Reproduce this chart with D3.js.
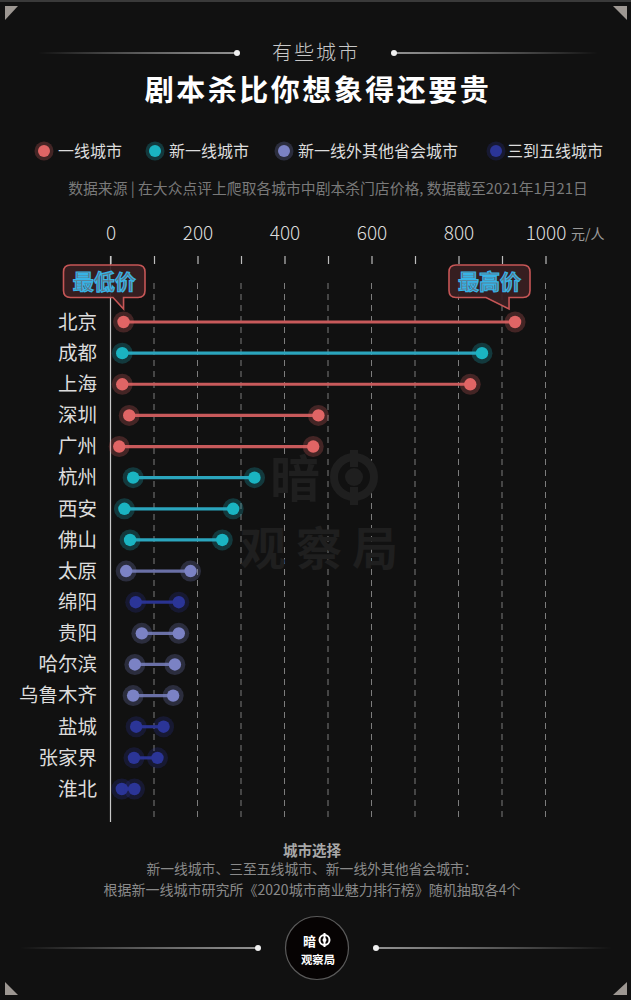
<!DOCTYPE html>
<html>
<head>
<meta charset="utf-8">
<script src="https://cdn.jsdelivr.net/npm/d3@7/dist/d3.min.js"></script>
<style>
  html, body { margin: 0; padding: 0; background: #111111; }
  svg { display: block; }
  text { font-family: "Noto Sans CJK SC", "Noto Sans", sans-serif; }
</style>
</head>
<body>
<svg id="chart" width="631" height="1000"></svg>
<script>
// ---------------- data ----------------
const cities = ["北京","成都","上海","深圳","广州","杭州","西安","佛山","太原","绵阳","贵阳","哈尔滨","乌鲁木齐","盐城","张家界","淮北"];
const tiers  = ["一线城市","新一线城市","一线城市","一线城市","一线城市","新一线城市","新一线城市","新一线城市",
                "新一线外其他省会城市","三到五线城市","新一线外其他省会城市","新一线外其他省会城市","新一线外其他省会城市",
                "三到五线城市","三到五线城市","三到五线城市"];
const minPrice = [30, 27, 27, 43, 20, 52, 32, 45, 36, 58, 72, 56, 52, 59, 54, 26];
const maxPrice = [930, 854, 827, 478, 466, 331, 282, 257, 184, 157, 157, 148, 144, 122, 108, 55];
const legendNames = ["一线城市","新一线城市","新一线外其他省会城市","三到五线城市"];
const tierColors  = ["#e06565","#1ab4c2","#7b82c4","#2b3597"];
const lineColors  = ["#c85a5b","#2ba5bd","#6a70a6","#2a3390"];
const tickLabels  = [0, 200, 400, 600, 800, 1000];
const minorTicks  = [0,100,200,300,400,500,600,700,800,900,1000];

const svg = d3.select("#chart");
const W = 631;

// ---------------- frame ----------------
svg.append("rect").attr("x",0).attr("y",0).attr("width",W).attr("height",2).attr("fill","#3a3a3a");
const cornerColor = "#9d9792";
[[[5,6],[18,6],[5,20]], [[613,6],[627,6],[627,20]], [[5,982],[5,995],[18,995]], [[627,982],[627,995],[613,995]]]
  .forEach(p => svg.append("path").attr("d", d3.line()(p) + "Z").attr("fill", cornerColor));

// gradients for header/footer lines
const defs = svg.append("defs");
function grad(id, x1, x2) {
  const g = defs.append("linearGradient").attr("id", id).attr("x1", x1).attr("x2", x2).attr("y1","0").attr("y2","0");
  g.append("stop").attr("offset","0%").attr("stop-color","#ffffff").attr("stop-opacity",0);
  g.append("stop").attr("offset","100%").attr("stop-color","#cfcfcf").attr("stop-opacity",0.9);
}
grad("gl","0","1"); grad("gr","1","0");

function decoLine(y, xl0, xl1, xr0, xr1) {
  svg.append("rect").attr("x",xl0).attr("y",y-0.75).attr("width",xl1-xl0).attr("height",1.5).attr("fill","url(#gl)");
  svg.append("rect").attr("x",xr0).attr("y",y-0.75).attr("width",xr1-xr0).attr("height",1.5).attr("fill","url(#gr)");
  svg.append("circle").attr("cx",xl1).attr("cy",y).attr("r",3).attr("fill","#f0f0f0");
  svg.append("circle").attr("cx",xr0).attr("cy",y).attr("r",3).attr("fill","#f0f0f0");
}

// ---------------- header ----------------
decoLine(53, 38, 237, 394, 598);
svg.append("text").attr("x",316).attr("y",60).attr("text-anchor","middle")
  .attr("font-size",20).attr("font-weight",300).attr("letter-spacing",2).attr("fill","#c8c8c8").text("有些城市");
svg.append("text").attr("x",318).attr("y",101).attr("text-anchor","middle")
  .attr("font-size",29).attr("font-weight",700).attr("letter-spacing",2.5).attr("fill","#ffffff").text("剧本杀比你想象得还要贵");

// ---------------- legend ----------------
const legendX = [44, 155, 284, 496];
const lg = svg.append("g").selectAll("g").data(legendNames).join("g")
  .attr("transform", (d,i) => `translate(${legendX[i]},151)`);
lg.append("circle").attr("r",9.5).attr("fill",(d,i)=>tierColors[i]).attr("opacity",0.25);
lg.append("circle").attr("r",6).attr("fill",(d,i)=>tierColors[i]);
lg.append("text").attr("x",(d,i)=> i===3 ? 11 : 14).attr("y",0).attr("dy","0.35em").attr("font-size",16)
  .attr("fill","#dddddd").text(d=>d);

svg.append("text").attr("x",328).attr("y",194).attr("text-anchor","middle")
  .attr("font-size",14.8).attr("fill","#7a7a7a")
  .text("数据来源 | 在大众点评上爬取各城市中剧本杀门店价格, 数据截至2021年1月21日");

// ---------------- scales ----------------
const x = d3.scaleLinear().domain([0,1000]).range([110.5,545.5]);
const y = d3.scalePoint().domain(cities).range([322,789]);
const gridTop = 283, gridBottom = 822;

// tick labels (top axis)
const axisLabels = svg.append("g").attr("transform","translate(0,240)")
  .call(d3.axisTop(x).tickValues(tickLabels).tickSize(0).tickPadding(0).tickFormat(d3.format("d")));
axisLabels.select(".domain").remove();
axisLabels.selectAll("text").attr("font-size",19).attr("font-weight",300).attr("fill","#dddddd")
  .attr("font-family","'Noto Sans CJK SC', 'Noto Sans', sans-serif").attr("dy",0);
svg.append("text").attr("x",571).attr("y",239).attr("font-size",14).attr("fill","#9a9a9a").text("元/人");

// short tick marks
const minor = svg.append("g").attr("transform","translate(0,256)")
  .call(d3.axisBottom(x).tickValues(minorTicks).tickSize(8).tickFormat(""));
minor.select(".domain").remove();
minor.selectAll("line").attr("stroke","#bdbdbd").attr("stroke-width",1.2);

// dashed grid
svg.append("g").selectAll("line").data(minorTicks.filter(d=>d>0)).join("line")
  .attr("x1",d=>x(d)).attr("x2",d=>x(d)).attr("y1",gridTop).attr("y2",gridBottom)
  .attr("stroke","#7d7d7d").attr("stroke-width",1).attr("stroke-dasharray","6,5");

// ---------------- watermark ----------------
const wm = svg.append("g").attr("fill","#1f1f1f");
const wm1 = wm.append("text").attr("x",270).attr("y",497).attr("font-size",50).attr("font-weight",700).text("暗");
const wm2 = wm.append("text").attr("x",240).attr("y",564).attr("font-size",46).attr("font-weight",700)
  .attr("letter-spacing",10).text("观察局");
// keep the two watermark lines from touching
{
  const b1 = wm1.node().getBBox(), b2 = wm2.node().getBBox();
  const ov = (b1.y + b1.height) - b2.y;
  if (ov > -0.5) wm2.attr("y", 564 + ov + 0.5);
}
wm.append("circle").attr("cx",354).attr("cy",477).attr("r",20).attr("fill","none").attr("stroke","#1f1f1f").attr("stroke-width",8);
wm.append("circle").attr("cx",354).attr("cy",477).attr("r",9);
wm.append("rect").attr("x",350).attr("y",450).attr("width",8).attr("height",17);
wm.append("rect").attr("x",350).attr("y",487).attr("width",8).attr("height",18);

// axis line at 0
svg.append("line").attr("x1",x(0)).attr("x2",x(0)).attr("y1",256).attr("y2",gridBottom)
  .attr("stroke","#c8c8c8").attr("stroke-width",1.2);

// ---------------- callouts ----------------
function callout(x0, x1, px0, tipX, label) {
  const top = 265, bot = 297.5, r = 7, tipY = 309;
  const p = d3.path();
  p.moveTo(x0 + r, top);
  p.lineTo(x1 - r, top); p.quadraticCurveTo(x1, top, x1, top + r);
  p.lineTo(x1, bot - r); p.quadraticCurveTo(x1, bot, x1 - r, bot);
  p.lineTo(tipX, bot); p.lineTo(tipX, tipY); p.lineTo(px0, bot);
  p.lineTo(x0 + r, bot); p.quadraticCurveTo(x0, bot, x0, bot - r);
  p.lineTo(x0, top + r); p.quadraticCurveTo(x0, top, x0 + r, top);
  p.closePath();
  svg.append("path").attr("d", p.toString()).attr("fill","#3a2022").attr("fill-opacity",0.92)
    .attr("stroke","#c65656").attr("stroke-width",1.6);
  svg.append("text").attr("x",(x0+x1)/2).attr("y",289).attr("text-anchor","middle")
    .attr("font-size",21).attr("font-weight",700).attr("fill","#8fe3ff").attr("fill-opacity",0.45)
    .attr("stroke","#37b3e6").attr("stroke-width",1.2).text(label);
}
callout(63.5, 145, 113, x(minPrice[0]), "最低价");
callout(449, 530, 486, x(maxPrice[0]) - 6, "最高价");

// ---------------- city labels ----------------
svg.append("g").selectAll("text").data(cities).join("text")
  .attr("x",97).attr("y",d=>y(d)).attr("dy","0.35em").attr("text-anchor","end")
  .attr("font-size",19.5).attr("fill","#dcdcdc").text(d=>d);

// ---------------- dumbbells ----------------
const rows = cities.map((c,i)=>({city:c, tier:legendNames.indexOf(tiers[i]), min:minPrice[i], max:maxPrice[i]}));
const rg = svg.append("g").selectAll("g").data(rows).join("g");
rg.append("line").attr("x1",d=>x(d.min)).attr("x2",d=>x(d.max)).attr("y1",d=>y(d.city)).attr("y2",d=>y(d.city))
  .attr("stroke",d=>lineColors[d.tier]).attr("stroke-width",3.2);
["min","max"].forEach(k=>{
  rg.append("circle").attr("cx",d=>x(d[k])).attr("cy",d=>y(d.city)).attr("r",10.5)
    .attr("fill",d=>tierColors[d.tier]).attr("opacity",0.25);
  rg.append("circle").attr("cx",d=>x(d[k])).attr("cy",d=>y(d.city)).attr("r",6.2)
    .attr("fill",d=>tierColors[d.tier]);
});

// ---------------- notes ----------------
svg.append("text").attr("x",312).attr("y",855.5).attr("text-anchor","middle").attr("font-size",14.5)
  .attr("font-weight",700).attr("fill","#a8a8a8").text("城市选择");
svg.append("text").attr("x",312).attr("y",874).attr("text-anchor","middle").attr("font-size",13.8)
  .attr("fill","#8a8a8a").text("新一线城市、三至五线城市、新一线外其他省会城市：");
svg.append("text").attr("x",312).attr("y",894.5).attr("text-anchor","middle").attr("font-size",14)
  .attr("fill","#8a8a8a").text("根据新一线城市研究所《2020城市商业魅力排行榜》随机抽取各4个");

// ---------------- footer logo ----------------
decoLine(948, 20, 258, 376, 612);
svg.append("circle").attr("cx",317).attr("cy",948).attr("r",31.5).attr("fill","#060303")
  .attr("stroke","#5a5a5a").attr("stroke-width",1.2);
svg.append("text").attr("x",303).attr("y",945.5).attr("font-size",13).attr("font-weight",700)
  .attr("fill","#ffffff").text("暗");
svg.append("circle").attr("cx",324.5).attr("cy",940).attr("r",5).attr("fill","none").attr("stroke","#fff").attr("stroke-width",2);
svg.append("circle").attr("cx",324.5).attr("cy",940).attr("r",2).attr("fill","#fff");
svg.append("rect").attr("x",323.5).attr("y",933).attr("width",2).attr("height",14).attr("fill","#fff");
svg.append("text").attr("x",318).attr("y",963.5).attr("text-anchor","middle").attr("font-size",11.5)
  .attr("font-weight",700).attr("fill","#ffffff").attr("textLength",34).attr("lengthAdjust","spacingAndGlyphs").text("观察局");
</script>
</body>
</html>
